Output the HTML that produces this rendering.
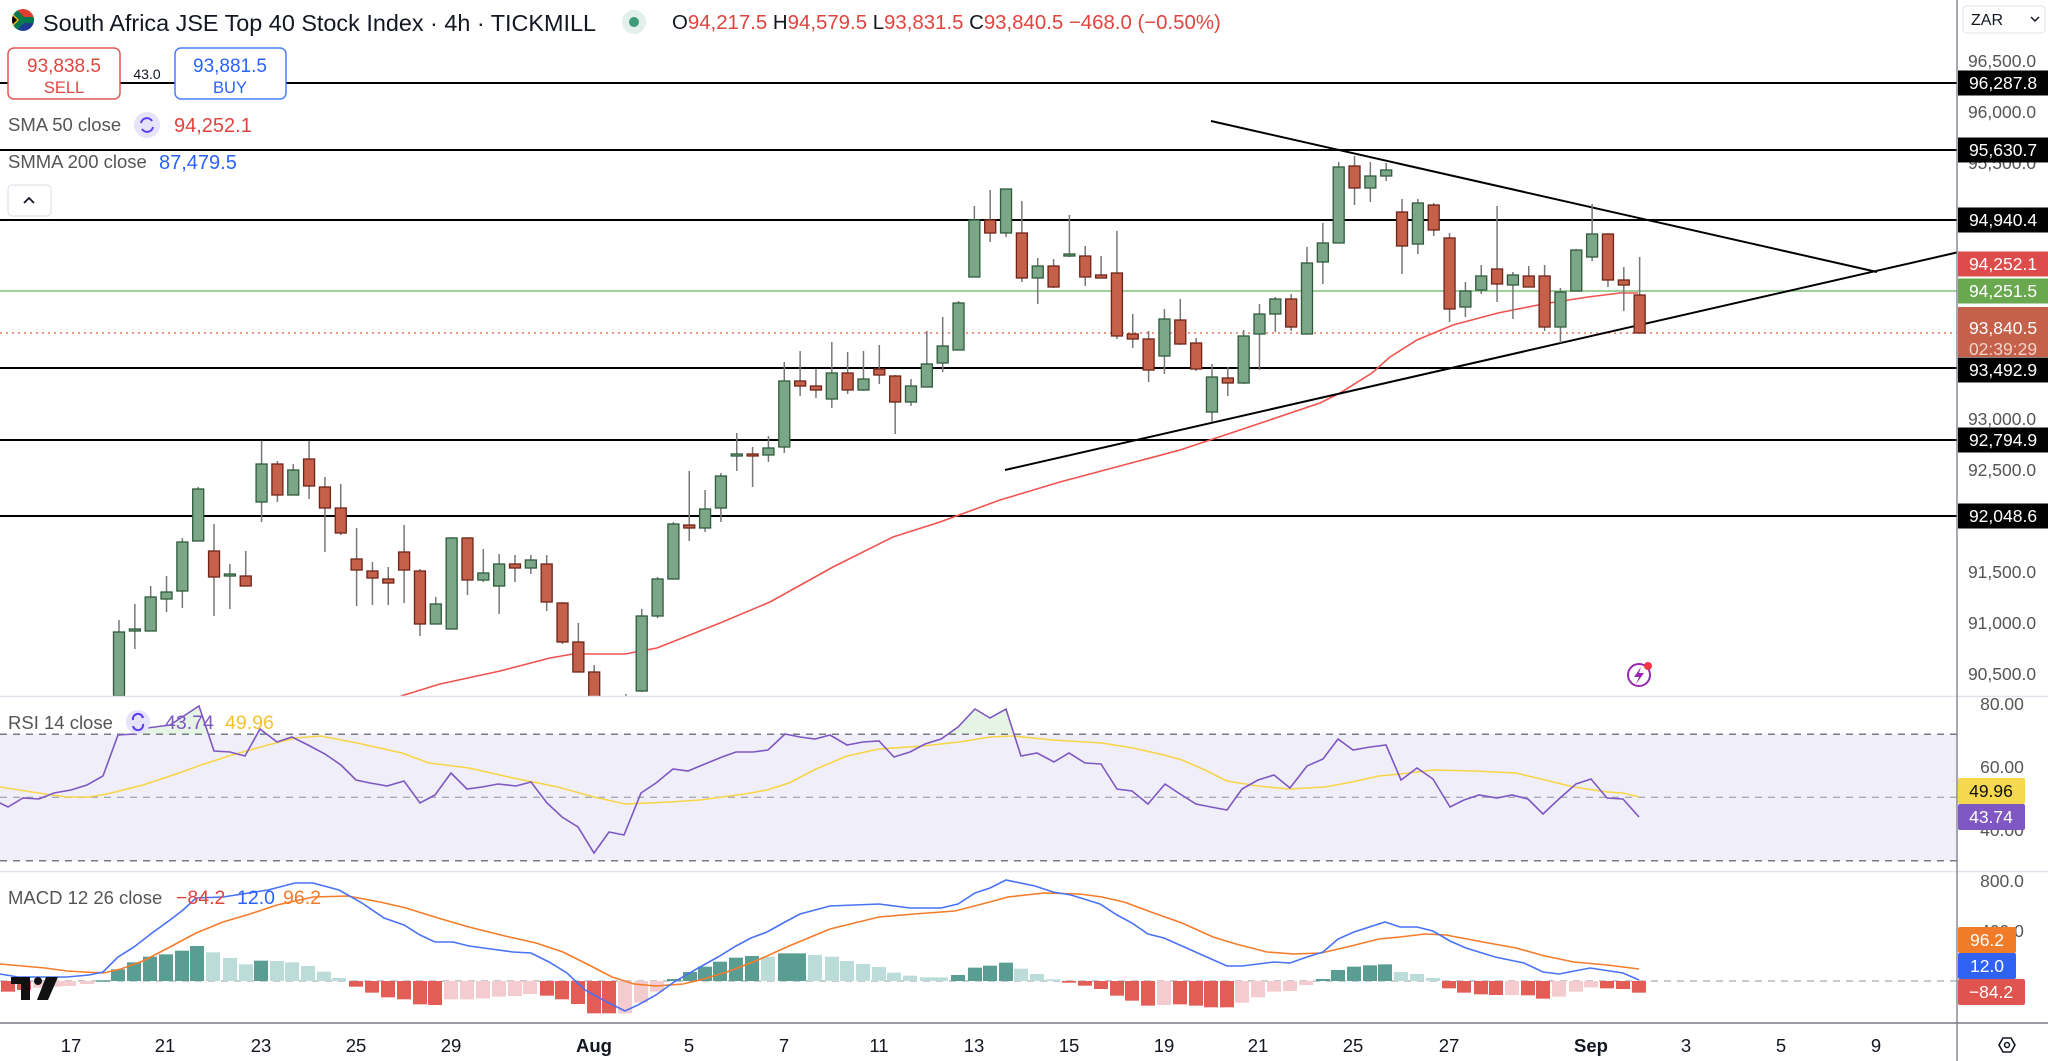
<!DOCTYPE html>
<html><head><meta charset="utf-8">
<style>
html,body{margin:0;padding:0;background:#fff;}
svg{display:block;font-family:"Liberation Sans",Arial,sans-serif;}
</style></head>
<body>
<svg id="c" width="2048" height="1061" viewBox="0 0 2048 1061" xmlns="http://www.w3.org/2000/svg">
<defs>
<clipPath id="cm"><rect x="0" y="0" width="1957" height="696"/></clipPath>
<clipPath id="cr"><rect x="0" y="697" width="1957" height="174"/></clipPath>
<clipPath id="crob"><rect x="0" y="697" width="1957" height="37.3"/></clipPath>
<clipPath id="cd"><rect x="0" y="872" width="1957" height="150"/></clipPath>
<clipPath id="flag"><circle cx="23" cy="20" r="11"/></clipPath>
</defs>
<g id="main" clip-path="url(#cm)"></g>
<g id="rsi" clip-path="url(#cr)"></g>
<g id="macd" clip-path="url(#cd)"></g>
<g id="over"></g>
</svg>
<script>
var NS="http://www.w3.org/2000/svg";
function el(p,t,a,txt){var e=document.createElementNS(NS,t);for(var k in a)e.setAttribute(k,a[k]);if(txt!==undefined)e.textContent=txt;p.appendChild(e);return e;}
var M=document.getElementById('main'),R=document.getElementById('rsi'),D=document.getElementById('macd'),O=document.getElementById('over');
function pts(a){return a.map(function(p){return p[0]+','+p[1]}).join(' ');}

[83,150,220,368,440,516].forEach(function(y){el(M,'line',{x1:0,x2:1957,y1:y,y2:y,stroke:'#000','stroke-width':2});});
el(M,'line',{x1:0,x2:1957,y1:291,y2:291,stroke:'#81c07a','stroke-width':1.6});
el(M,'line',{x1:0,x2:1957,y1:333,y2:333,stroke:'#e5735a','stroke-width':1.6,'stroke-dasharray':'2,4'});

var sma=[[401,696],[440,684],[500,671],[550,658],[573,654],[625,654],[657,648],[720,623],[770,602],[833,567],[893,537],[940,522],[1000,500],[1060,482],[1120,466],[1180,450],[1240,430],[1320,403],[1340,393],[1372,373],[1390,357],[1417,340],[1453,325],[1498,313],[1543,304],[1588,297],[1620,293],[1638,293]];
el(M,'polyline',{points:pts(sma),fill:'none',stroke:'#ef5350','stroke-width':1.6});

el(M,'line',{x1:1211,y1:121,x2:1877,y2:272,stroke:'#000','stroke-width':2});
el(M,'line',{x1:1005,y1:470,x2:1959,y2:252,stroke:'#000','stroke-width':2});

var C=[[696,620,700,632],[630,604,649,630,'g'],[631,586,631,597],[599,576,612,592],[591,538,608,542],[541,487,541,489],[551,524,616,577],[575,564,609,575,'g'],[576,551,586,586],[502,441,522,464],
[464,461,502,495],[495,464,495,470],[459,441,499,486],[487,477,552,508],[508,484,535,533],[559,528,606,570],[571,562,605,578],[579,567,605,583],[552,525,603,570],[571,569,636,624],
[624,597,624,604],[629,537,629,538],[538,537,595,580],[580,549,582,573],[586,554,614,564],[564,555,582,568],[568,555,574,560],[564,555,611,602],[603,602,644,642],[642,623,672,672],
[672,665,720,715],[715,705,740,735],[735,694,745,700],[691,609,692,616],[616,577,618,579],[579,522,579,524],[525,471,541,528],[528,490,532,509],[508,473,522,476],[455,433,471,455,'g'],
[455,447,487,455,'r'],[455,436,462,448],[447,362,453,381],[381,351,396,386],[386,369,398,390],[399,342,408,373],[373,352,394,390],[390,351,391,379],[369,345,384,375],[376,375,434,402],
[402,379,406,386],[387,331,387,364],[363,317,372,346],[350,301,350,303],[277,206,277,220],[220,190,242,233],[233,189,237,189],[233,201,282,278],[278,258,304,266],[266,259,288,287],
[255,215,257,255,'g'],[256,246,286,277],[275,256,278,278],[273,231,339,336],[334,314,348,339],[339,331,382,370],[356,309,374,319],[320,299,345,344],[343,338,371,369],[412,364,422,377],
[378,367,396,383],[383,330,384,336],[334,304,370,314],[314,297,332,299],[299,294,331,327],[334,247,334,263],[262,223,284,243],[243,162,243,167],[166,156,205,188],[188,162,202,176],
[176,163,181,170],[212,199,274,246],[244,199,254,203],[205,203,236,230],[238,233,322,309],[307,282,317,291],[290,265,294,276],[269,206,302,284],[285,272,319,275],[276,266,287,287],
[276,265,331,327],[327,288,343,292],[291,249,291,250],[257,204,261,234],[234,233,287,280],[280,267,311,285],[295,257,333,333]];
C.forEach(function(c,i){
  var x=119+15.84*i, o=c[0],h=c[1],l=c[2],cl=c[3];
  var g=c[4]?c[4]=='g':(cl<o);
  el(M,'line',{x1:x,x2:x,y1:h,y2:l,stroke:'#777','stroke-width':1.5});
  var t=Math.min(o,cl),b=Math.max(o,cl); if(b-t<2){t-=1;b+=1;}
  el(M,'rect',{x:x-5.5,y:t,width:11,height:b-t,fill:g?'#7ca688':'#c5604a',stroke:g?'#2f5b3b':'#6d2519','stroke-width':1.3});
});

el(O,'circle',{cx:1639,cy:675,r:11,fill:'#fff',stroke:'#9c27b0','stroke-width':2});
el(O,'path',{d:'M1641 667 L1634 677 L1639 677 L1636 684 L1644 673 L1639 673 Z',fill:'#9c27b0'});
el(O,'circle',{cx:1648,cy:666,r:4,fill:'#f23645'});

el(R,'rect',{x:0,y:734.3,width:1957,height:126.4,fill:'#f0eef9'});
el(R,'line',{x1:0,x2:1957,y1:734.3,y2:734.3,stroke:'#787b86','stroke-width':1.5,'stroke-dasharray':'7,6'});
el(R,'line',{x1:0,x2:1957,y1:797.3,y2:797.3,stroke:'#a8abb5','stroke-width':1.3,'stroke-dasharray':'7,6'});
el(R,'line',{x1:0,x2:1957,y1:860.7,y2:860.7,stroke:'#787b86','stroke-width':1.5,'stroke-dasharray':'7,6'});
var rsi=[[0,803],[8,807],[23,798],[39,799],[54,793],[71,790],[87,785],[103,776],[118,735],[134,734],[147,728],[170,725],[199,706],[214,751],[230,752],[245,756],[260,729],[277,742],[292,737],[308,745],[325,754],[341,765],[356,780],[370,783],[387,786],[404,781],[420,803],[435,795],[451,773],[467,789],[482,787],[498,784],[516,786],[531,782],[547,803],[562,817],[578,827],[594,853],[609,832],[624,835],[641,793],[656,783],[673,769],[688,771],[700,766],[722,757],[736,752],[753,752],[768,750],[785,734],[800,737],[815,739],[830,735],[847,745],[863,742],[879,741],[894,757],[910,752],[925,744],[941,739],[958,727],[975,709],[990,718],[1006,709],[1021,756],[1037,753],[1054,762],[1069,753],[1085,763],[1101,764],[1117,789],[1132,791],[1148,804],[1165,784],[1180,794],[1196,804],[1211,807],[1227,810],[1242,789],[1258,780],[1274,775],[1290,788],[1307,766],[1323,759],[1338,739],[1353,750],[1370,747],[1386,745],[1401,780],[1417,768],[1433,779],[1450,807],[1464,800],[1479,795],[1497,798],[1512,795],[1528,799],[1543,814],[1560,798],[1576,784],[1591,779],[1607,798],[1623,799],[1639,817]];
var ob=el(R,'g',{'clip-path':'url(#crob)'});
el(ob,'polygon',{points:'0,734.3 '+pts(rsi)+' 1639,734.3',fill:'rgba(76,175,80,0.14)'});
var rma=[[0,787],[45,794],[67,797],[89,797],[107,794],[143,785],[179,773],[201,765],[232,755],[268,745],[295,738],[321,736],[357,743],[402,753],[429,763],[469,768],[513,778],[558,787],[594,797],[625,804],[670,802],[700,800],[745,794],[767,790],[789,783],[816,769],[847,756],[879,749],[923,746],[959,742],[990,737],[1013,736],[1053,740],[1102,743],[1133,748],[1164,755],[1182,760],[1205,770],[1227,781],[1258,786],[1289,789],[1325,787],[1352,782],[1379,776],[1400,774],[1433,770],[1474,771],[1516,773],[1545,780],[1574,787],[1607,792],[1623,793],[1639,797]];
el(R,'polyline',{points:pts(rma),fill:'none',stroke:'#f7d549','stroke-width':1.6});
el(R,'polyline',{points:pts(rsi),fill:'none',stroke:'#7e57c2','stroke-width':1.6});

el(D,'line',{x1:0,x2:1957,y1:981,y2:981,stroke:'#a8abb5','stroke-width':1.3,'stroke-dasharray':'7,6'});
var H=[[8,905,'dr'],[24,900,'dr'],[40,893,'lr'],[55,890,'lr'],[69,888,'lr'],[87,882,'lr'],[103,869,'dg'],[118,838,'dg'],[134,817,'dg'],[150,800,'dg'],[166,793,'dg'],[182,782,'dg'],[197,768,'dg'],[213,787,'lg'],[230,804,'lg'],[246,823,'lg'],[261,812,'dg'],[277,813,'lg'],[292,817,'lg'],[308,828,'lg'],[324,845,'lg'],[339,864,'lg'],
[356,890,'dr'],[372,908,'dr'],[388,922,'dr'],[404,928,'dr'],[420,943,'dr'],[435,945,'dr'],[451,928,'lr'],[467,928,'lr'],[483,925,'lr'],[499,920,'lr'],[515,918,'lr'],[530,912,'lr'],[547,917,'dr'],[562,928,'dr'],[578,942,'dr'],[594,970,'dr'],[609,970,'dr'],[625,970,'lr'],[641,938,'lr'],[657,905,'lr'],[674,867,'dg'],[690,846,'dg'],
[705,830,'dg'],[720,815,'dg'],[736,803,'dg'],[752,798,'dg'],[768,800,'lg'],[785,790,'dg'],[799,790,'dg'],[815,795,'lg'],[832,800,'lg'],[847,813,'lg'],[863,822,'lg'],[879,831,'lg'],[894,848,'lg'],[910,857,'lg'],[927,862,'lg'],[941,862,'lg'],[958,855,'dg'],[975,833,'dg'],[990,827,'dg'],[1006,818,'dg'],[1021,836,'lg'],[1037,852,'lg'],[1053,868,'lg'],
[1069,878,'dr'],[1085,887,'dr'],[1101,897,'dr'],[1117,917,'dr'],[1132,932,'dr'],[1148,947,'dr'],[1164,945,'lr'],[1180,943,'dr'],[1196,947,'dr'],[1211,952,'dr'],[1227,952,'dr'],[1242,938,'lr'],[1258,922,'lr'],[1274,905,'lr'],[1290,903,'lr'],[1306,885,'lr'],[1323,867,'dg'],[1338,840,'dg'],[1354,830,'dg'],[1370,826,'dg'],[1385,823,'dg'],[1401,846,'lg'],[1417,852,'lg'],[1433,864,'lg'],
[1449,895,'dr'],[1464,908,'dr'],[1481,913,'dr'],[1496,915,'dr'],[1512,915,'lr'],[1528,916,'dr'],[1543,926,'dr'],[1559,920,'lr'],[1576,905,'lr'],[1591,892,'lr'],[1607,895,'dr'],[1623,897,'dr'],[1639,908,'dr']];
var col={dg:'#5a9e93',lg:'#bcdcd9',dr:'#e35d57',lr:'#f4cbcf'};
H.forEach(function(b){var y=690+b[1]/3,t=Math.min(y,981),h=Math.abs(y-981);if(h<1.5){h=1.5;t=981-0.75;}
  el(D,'rect',{x:b[0]-7,y:t,width:14,height:h,fill:col[b[2]]});});
var mb=[[0,974],[18,977],[45,977],[67,977],[89,975],[103,972],[118,957],[134,947],[152,933],[170,920],[183,910],[196,898],[223,897],[268,890],[295,883],[313,883],[339,890],[362,903],[384,918],[404,925],[420,935],[435,942],[453,942],[469,946],[491,949],[513,952],[531,953],[549,962],[567,973],[585,990],[607,1002],[625,1011],[638,1005],[656,995],[674,982],[700,967],[718,957],[736,946],[751,938],[767,932],[785,922],[800,914],[830,906],[879,904],[910,908],[941,908],[958,904],[975,893],[990,888],[1006,880],[1035,886],[1053,892],[1071,895],[1100,904],[1117,915],[1132,923],[1148,934],[1164,938],[1182,946],[1209,958],[1227,966],[1242,966],[1274,962],[1290,963],[1307,957],[1323,952],[1338,939],[1354,932],[1385,922],[1400,927],[1417,927],[1433,931],[1450,941],[1466,948],[1495,957],[1524,963],[1543,972],[1559,974],[1590,968],[1623,973],[1639,980]];
var ms=[[0,964],[45,968],[67,971],[103,973],[121,969],[143,961],[170,947],[196,933],[223,922],[250,914],[277,905],[313,897],[348,896],[380,902],[406,908],[438,918],[469,927],[505,936],[536,943],[563,952],[589,965],[612,977],[634,984],[656,986],[683,984],[700,980],[727,972],[758,960],[789,946],[830,929],[879,917],[914,914],[955,911],[986,903],[1008,897],[1044,893],[1080,894],[1102,897],[1124,902],[1151,912],[1182,923],[1213,937],[1236,944],[1267,952],[1294,954],[1321,953],[1347,947],[1379,939],[1400,937],[1425,934],[1446,935],[1483,942],[1516,948],[1545,956],[1574,962],[1607,965],[1639,969]];
el(D,'polyline',{points:pts(ms),fill:'none',stroke:'#f57c2a','stroke-width':1.6});
el(D,'polyline',{points:pts(mb),fill:'none',stroke:'#4a72f5','stroke-width':1.6});

el(O,'path',{d:'M11 977 H30 V1000 H21 V984 H11 Z',fill:'#111'});
el(O,'circle',{cx:38,cy:981,r:4,fill:'#111'});
el(O,'path',{d:'M46 977 H58 L48 1000 H37 Z',fill:'#111'});

el(O,'line',{x1:0,x2:2048,y1:696.5,y2:696.5,stroke:'#e0e3eb','stroke-width':1.5});
el(O,'line',{x1:0,x2:2048,y1:871.5,y2:871.5,stroke:'#e0e3eb','stroke-width':1.5});
el(O,'line',{x1:0,x2:2048,y1:1023,y2:1023,stroke:'#787b86','stroke-width':1.5});
el(O,'line',{x1:1957,x2:1957,y1:0,y2:1061,stroke:'#787b86','stroke-width':1.3});

function T(x,y,s,size,fill,anchor,weight){return el(O,'text',{x:x,y:y,'font-size':size||16,fill:fill||'#333','text-anchor':anchor||'start','font-weight':weight||'normal'},s);}
[["96,500.0",61],["96,000.0",112],["95,500.0",163],["94,000.0",317],["93,000.0",419],["92,500.0",470],["91,500.0",572],["91,000.0",623],["90,500.0",674],["80.00",704],["60.00",767],["40.00",830],["800.0",881],["400.0",931]].forEach(function(a){T(2002,a[1]+6,a[0],17.5,'#555','middle');});
function box(y,h,fill,txt,tc,w){el(O,'rect',{x:1958,y:y-h/2,width:w||90,height:h,fill:fill});T(1958+(w||90)/2,y+6,txt,17.5,tc||'#fff','middle');}
[["96,287.8",83],["95,630.7",150],["94,940.4",220],["93,492.9",370],["92,794.9",440],["92,048.6",516]].forEach(function(a){box(a[1],25,'#000',a[0]);});
box(264,25,'#dd4b4b','94,252.1');
box(291,25,'#6aa84f','94,251.5');
el(O,'rect',{x:1958,y:307,width:90,height:50,fill:'#c5604a'});
T(2003,334,'93,840.5',17.5,'#fff','middle');T(2003,355,'02:39:29',17.5,'#f3d2c8','middle');
el(O,'rect',{x:1958,y:778,width:67,height:26,fill:'#f5d84f',rx:2});T(1991,797,'49.96',17.5,'#111','middle');
el(O,'rect',{x:1958,y:804,width:67,height:26,fill:'#7e57c2',rx:2});T(1991,823,'43.74',17.5,'#fff','middle');
el(O,'rect',{x:1958,y:927,width:58,height:26,fill:'#f07c2a',rx:2});T(1987,946,'96.2',17.5,'#fff','middle');
el(O,'rect',{x:1958,y:953,width:58,height:26,fill:'#2f62f5',rx:2});T(1987,972,'12.0',17.5,'#fff','middle');
el(O,'rect',{x:1958,y:979,width:67,height:26,fill:'#e05450',rx:2});T(1991,998,'−84.2',17.5,'#fff','middle');
el(O,'rect',{x:1963,y:6,width:82,height:27,rx:4,fill:'#fff',stroke:'#e0e3eb'});
T(1971,25,'ZAR',16,'#131722');
el(O,'path',{d:'M2031 17 l4 4 l4 -4',fill:'none',stroke:'#131722','stroke-width':1.5});
[["17",71],["21",165],["23",261],["25",356],["29",451],["Aug",594,1],["5",689],["7",784],["11",879],["13",974],["15",1069],["19",1164],["21",1258],["25",1353],["27",1449],["Sep",1591,1],["3",1686],["5",1781],["9",1876]].forEach(function(a){T(a[1],1052,a[0],18.5,'#131722','middle',a[2]?'bold':'normal');});
el(O,'path',{d:'M1999 1045 l4 -7 h8 l4 7 l-4 7 h-8 z',fill:'none',stroke:'#131722','stroke-width':1.6});
el(O,'circle',{cx:2007,cy:1045,r:2.5,fill:'none',stroke:'#131722','stroke-width':1.5});

var fg=el(O,'g',{'clip-path':'url(#flag)'});
el(fg,'rect',{x:12,y:9,width:22,height:11,fill:'#e03c31'});
el(fg,'rect',{x:12,y:20,width:22,height:11,fill:'#1f3a93'});
el(fg,'path',{d:'M12 9 L16 9 L24 17 H34 V23 H24 L16 31 H12 Z',fill:'#007a4d'});
el(fg,'path',{d:'M12 13 L19 20 L12 27 Z',fill:'#ffb612'});
el(fg,'path',{d:'M12 15 L17 20 L12 25 Z',fill:'#000'});
T(43,31,'South Africa JSE Top 40 Stock Index · 4h · TICKMILL',23.4,'#131722');
el(O,'circle',{cx:634,cy:22,r:12,fill:'#e3efea'});el(O,'circle',{cx:634,cy:22,r:5,fill:'#3d9b77'});
var oh=el(O,'text',{x:672,y:29,'font-size':20.4,fill:'#131722'});
[['O','#131722'],['94,217.5 ','#e0443f'],['H','#131722'],['94,579.5 ','#e0443f'],['L','#131722'],['93,831.5 ','#e0443f'],['C','#131722'],['93,840.5 −468.0 (−0.50%)','#e0443f']].forEach(function(a){el(oh,'tspan',{fill:a[1]},a[0]);});
el(O,'rect',{x:8,y:48,width:112,height:51,rx:6,fill:'#fff',stroke:'#e05656','stroke-width':1.5});
T(64,72,'93,838.5',19,'#e0443f','middle');T(64,93,'SELL',16.5,'#e0443f','middle');
T(147,79,'43.0',14,'#131722','middle');
el(O,'rect',{x:175,y:48,width:111,height:51,rx:6,fill:'#fff',stroke:'#4a7dff','stroke-width':1.5});
T(230,72,'93,881.5',19,'#2962ff','middle');T(230,93,'BUY',16.5,'#2962ff','middle');
T(8,131,'SMA 50 close',18.5,'#555');
el(O,'circle',{cx:147,cy:125,r:13,fill:'#e7e3fb'});
el(O,'path',{d:'M141 123 a6 6 0 0 1 11 -2 M153 127 a6 6 0 0 1 -11 2',fill:'none',stroke:'#5a3ff0','stroke-width':2});
T(174,132,'94,252.1',20,'#e0443f');
T(8,168,'SMMA 200 close',18.5,'#555');
T(159,169,'87,479.5',20,'#2962ff');
el(O,'rect',{x:8,y:185,width:43,height:31,rx:4,fill:'#fff',stroke:'#e0e3eb','stroke-width':1.2});
el(O,'path',{d:'M24 203 l5 -5 l5 5',fill:'none',stroke:'#131722','stroke-width':1.8});
T(8,729,'RSI 14 close',18.5,'#555');
el(O,'circle',{cx:138,cy:722,r:12,fill:'#e7e3fb'});
el(O,'path',{d:'M133 720 a5 5 0 0 1 10 -2 M143 724 a5 5 0 0 1 -10 2',fill:'none',stroke:'#5a3ff0','stroke-width':2});
T(165,729,'43.74',19.5,'#7e57c2');T(225,729,'49.96',19.5,'#f2c232');
T(8,904,'MACD 12 26 close',18.5,'#555');
T(176,904,'−84.2',19.5,'#e0443f');T(237,904,'12.0',19.5,'#2962ff');T(283,904,'96.2',19.5,'#f57c2a');
</script>
</body></html>
